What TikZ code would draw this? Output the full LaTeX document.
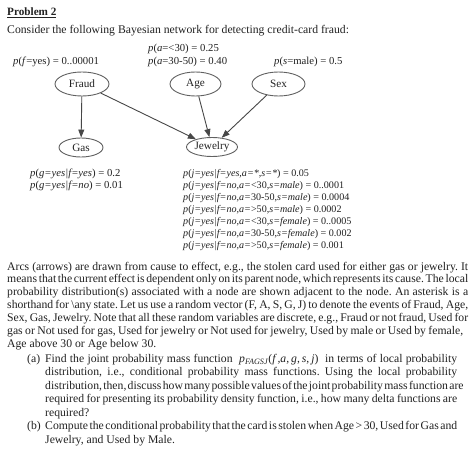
\documentclass[tikz,border=0pt]{standalone}
\usepackage{fontspec}
\setmainfont{Liberation Serif}
\usetikzlibrary{shapes.geometric,arrows.meta}
\definecolor{ink}{HTML}{222222}
\frenchspacing
\newcommand{\jl}[2][461pt]{\makebox[#1][s]{#2}}
\newcommand{\bodyfont}{\fontsize{11.7}{12.9}\selectfont\spaceskip=.25em plus .3em minus .14em\relax}
\newcommand{\listfont}{\fontsize{11.7}{13.5}\selectfont\spaceskip=.25em plus .3em minus .14em\relax}
\begin{document}
\begin{tikzpicture}[x=1pt,y=-1pt,
  bn/.style={ellipse,draw=black!62,line width=0.9pt,inner sep=0pt,text=ink,font=\fontsize{11.2}{13}\selectfont},
  edge/.style={draw=black!72,line width=0.9pt,-{Triangle[length=8pt,width=6pt]}},
  lab/.style={anchor=base west,inner sep=0pt,text=ink,font=\fontsize{10.7}{12}\selectfont},
  jlab/.style={lab,font=\fontsize{10.1}{12}\selectfont},
  txt/.style={anchor=base west,inner sep=0pt,text=ink,font=\bodyfont},
  block/.style={anchor=base west,inner sep=0pt,text=ink}]
\useasboundingbox[fill=white] (0,0) rectangle (474,449);

% title and intro
\node[txt,font=\fontsize{11.2}{13}\selectfont] (title) at (7,15.5) {\underline{\textbf{Problem 2}}};
\node[txt] (intro) at (7,33.5) {Consider the following Bayesian network for detecting credit-card fraud:};

% priors
\node[lab] (pa1) at (148,51.5) {\textit{p}(\textit{a}=<30) = 0.25};
\node[lab] (pf) at (13,65) {\textit{p}(\textit{f}=yes) = 0..00001};
\node[lab] (pa2) at (148,65) {\textit{p}(\textit{a}=30-50) = 0.40};
\node[lab] (ps) at (274,65) {\textit{p}(\textit{s}=male) = 0.5};

% network
\node[bn,minimum width=54pt,minimum height=24pt] (fraud) at (82,84) {Fraud};
\node[bn,minimum width=51pt,minimum height=24pt] (age) at (195.5,84) {Age};
\node[bn,minimum width=53pt,minimum height=24pt] (sex) at (278.5,84) {Sex};
\node[bn,minimum width=44pt,minimum height=19pt] (gas) at (81,147.5) {Gas};
\node[bn,minimum width=51pt,minimum height=19pt] (jew) at (212,147) {Jewelry};

\draw[edge] (fraud) -- (gas);
\draw[edge] (fraud) -- (jew);
\draw[edge] (age) -- (jew);
\draw[edge] (sex) -- (jew);

% conditional tables
\node[lab] (g1) at (30,176.5) {\textit{p}(\textit{g=yes|f=yes}) = 0.2};
\node[lab] (g2) at (30,188.5) {\textit{p}(\textit{g=yes|f=no}) = 0.01};

\node[jlab] (j1) at (183,176.5) {\textit{p}(\textit{j=yes|f=yes,a=*,s=*}) = 0.05};
\node[jlab] (j2) at (183,188.5) {\textit{p}(\textit{j=yes|f=no,a=}<30,\textit{s=male}) = 0..0001};
\node[jlab] (j3) at (183,200.5) {\textit{p}(\textit{j=yes|f=no,a=}30-50,\textit{s=male}) = 0.0004};
\node[jlab] (j4) at (183,212.5) {\textit{p}(\textit{j=yes|f=no,a=}>50,\textit{s=male}) = 0.0002};
\node[jlab] (j5) at (183,224.5) {\textit{p}(\textit{j=yes|f=no,a=}<30,\textit{s=female}) = 0..0005};
\node[jlab] (j6) at (183,236.5) {\textit{p}(\textit{j=yes|f=no,a=}30-50,\textit{s=female}) = 0.002};
\node[jlab] (j7) at (183,248.5) {\textit{p}(\textit{j=yes|f=no,a=}>50,\textit{s=female}) = 0.001};

% paragraph
\node[block] (para) at (7,270) {\parbox[t]{461pt}{\parindent=0pt\bodyfont
\jl{Arcs (arrows) are drawn from cause to effect, e.g., the stolen card used for either gas or jewelry. It}\\
\jl{means that the current effect is dependent only on its parent node, which represents its cause. The local}\\
\jl{probability distribution(s) associated with a node are shown adjacent to the node. An asterisk is a}\\
\jl{shorthand for \textbackslash any state. Let us use a random vector (F, A, S, G, J) to denote the events of Fraud, Age,}\\
\jl{Sex, Gas, Jewelry. Note that all these random variables are discrete, e.g., Fraud or not fraud, Used for}\\
\jl[456pt]{gas or Not used for gas, Used for jewelry or Not used for jewelry, Used by male or Used by female,}\\
Age above 30 or Age below 30.}};

% questions
\node[txt] (qa) at (27,362.3) {(a)};
\node[block] (qatext) at (45,362.3) {\parbox[t]{412pt}{\parindent=0pt\listfont
\jl[412pt]{Find the joint probability mass function \ \textit{p}\textsubscript{\textit{FAGSJ}}(\textit{f\,,a},\,\textit{g},\,\textit{s},\,\textit{j}) \ in terms of local probability}\\
\jl[412pt]{distribution, i.e., conditional probability mass functions. Using the local probability}\\
\jl[412pt]{distribution, then, discuss how many possible values of the joint probability mass function are}\\
\jl[412pt]{required for presenting its probability density function, i.e., how many delta functions are}\\
required?}};
\node[txt] (qb) at (27,429.5) {(b)};
\node[block] (qbtext) at (45,429.5) {\parbox[t]{412pt}{\parindent=0pt\listfont
\jl[412pt]{Compute the conditional probability that the card is stolen when Age > 30, Used for Gas and}\\
Jewelry, and Used by Male.}};
\end{tikzpicture}
\end{document}
